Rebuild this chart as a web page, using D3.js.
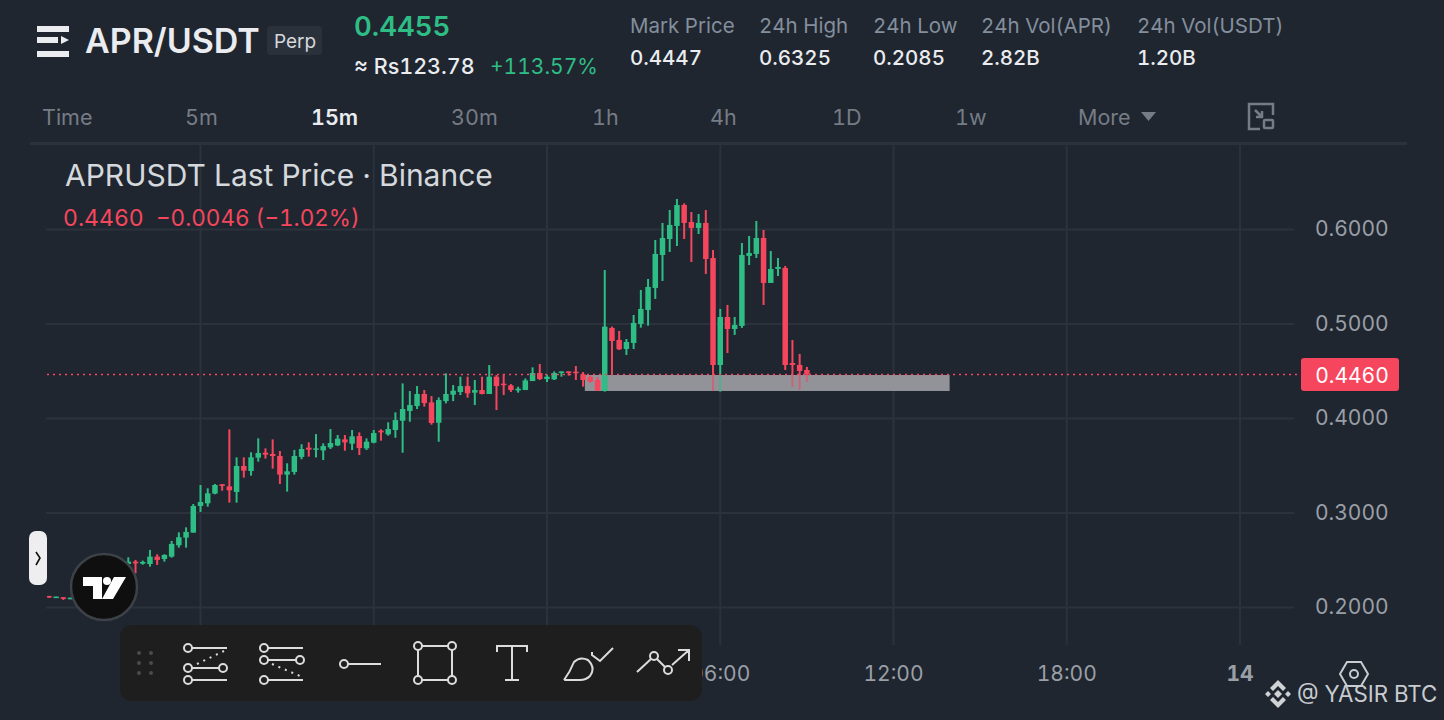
<!DOCTYPE html>
<html>
<head>
<meta charset="utf-8">
<script src="https://d3js.org/d3.v7.min.js"></script>
<style>
  html, body { margin: 0; padding: 0; background: #1f2630; overflow: hidden; }
  text { font-family: Inter, "Noto Sans", sans-serif; font-variant-numeric: tabular-nums; }
</style>
</head>
<body>
<div id="chart"></div>
<script>
// 15m candles, hours counted from 00:00 on the 13th
var firstHour = -17.25, stepHours = 0.25;
var opens = [
  .2117,.2099,.2103,.2082,.2090,.2140,.2190,.2240,.2220,.2295,.2340,
  .2455,.2480,.2459,.2455,.2533,.2508,.2533,.2653,.2734,.2787,.3069,
  .3097,.3200,.3298,.3277,.3217,.3492,.3439,.3580,.3633,.3619,.3598,
  .3401,.3429,.3588,.3686,.3665,.3657,.3689,.3710,.3774,.3728,.3809,
  .3679,.3739,.3866,.3827,.3873,.3971,.4074,.4127,.4254,.4165,.3950,
  .4179,.4247,.4275,.4338,.4268,.4296,.4254,.4437,.4363,.4345,.4292,
  .4296,.4391,.4476,.4412,.4409,.4479,.4493,.4490,.4462,.4434,.4402,
  .4286,.4953,.4826,.4730,.4794,.4995,.5143,.5376,.5725,.5894,.6032,
  .6254,.6074,.6011,.6064,.5693,.4561,.5069,.4942,.4974,.5715,.5736,
  .5905,.5429,.5577,.5588,.4582,.4561,.4508
];
var highs = [
  .2117,.2110,.2103,.2099,.2160,.2215,.2265,.2270,.2320,.2380,.2420,
  .2526,.2498,.2491,.2604,.2558,.2558,.2699,.2790,.2843,.3090,.3291,
  .3256,.3302,.3302,.3880,.3584,.3584,.3637,.3785,.3679,.3774,.3651,
  .3521,.3662,.3722,.3743,.3830,.3732,.3883,.3820,.3820,.3873,.3848,
  .3784,.3873,.3880,.3954,.4060,.4366,.4285,.4338,.4296,.4232,.4218,
  .4472,.4349,.4437,.4437,.4402,.4437,.4560,.4455,.4465,.4359,.4331,
  .4419,.4536,.4571,.4458,.4493,.4493,.4493,.4550,.4487,.4448,.4431,
  .5566,.4967,.4921,.4836,.5090,.5355,.5471,.5884,.6064,.6201,.6318,
  .6272,.6180,.6159,.6201,.5778,.5154,.5196,.5069,.5852,.5926,.6085,
  .5990,.5767,.5693,.5609,.4826,.4678,.4540
];
var lows = [
  .2099,.2099,.2075,.2082,.2080,.2125,.2175,.2200,.2205,.2280,.2325,
  .2450,.2357,.2448,.2427,.2445,.2480,.2522,.2628,.2628,.2787,.3006,
  .3062,.3193,.3231,.3104,.3104,.3369,.3390,.3538,.3570,.3464,.3302,
  .3221,.3401,.3563,.3591,.3583,.3555,.3672,.3703,.3654,.3661,.3608,
  .3661,.3732,.3760,.3813,.3791,.3633,.3961,.4095,.4120,.3929,.3749,
  .4155,.4179,.4243,.4215,.4137,.4250,.4254,.4084,.4243,.4275,.4268,
  .4296,.4391,.4402,.4381,.4402,.4437,.4448,.4402,.4332,.4374,.4290,
  .4279,.4455,.4720,.4667,.4730,.4956,.4977,.5260,.5450,.5757,.5820,
  .5894,.5651,.5947,.5524,.4286,.4279,.4688,.4879,.4953,.5619,.5693,
  .5196,.5429,.5503,.4508,.4328,.4297,.4381
];
var closes = [
  .2099,.2110,.2089,.2099,.2140,.2190,.2240,.2220,.2295,.2340,.2390,
  .2480,.2462,.2477,.2533,.2498,.2551,.2667,.2738,.2794,.3069,.3111,
  .3203,.3291,.3281,.3235,.3492,.3443,.3584,.3630,.3612,.3598,.3401,
  .3436,.3598,.3672,.3665,.3679,.3703,.3735,.3781,.3742,.3806,.3682,
  .3749,.3841,.3848,.3883,.3978,.4095,.4137,.4254,.4158,.3947,.4190,
  .4254,.4289,.4338,.4261,.4296,.4254,.4437,.4338,.4349,.4296,.4310,
  .4398,.4476,.4412,.4437,.4476,.4493,.4479,.4479,.4402,.4385,.4290,
  .4967,.4815,.4727,.4805,.5006,.5154,.5387,.5736,.5905,.6043,.6254,
  .6064,.6011,.6064,.5683,.4561,.5069,.4942,.4984,.5725,.5746,.5905,
  .5429,.5577,.5598,.4561,.4561,.4498,.4460
];

var priceTicks = [0.2, 0.3, 0.4, 0.5, 0.6];
var timeTicks = [-12, -6, 0, 6, 12, 18, 24];
var timeLabels = ["12:00", "18:00", "13", "06:00", "12:00", "18:00", "14"];
var lastPrice = 0.4460;
// grey box someone drew on the chart: price range and hours it spans
var zonePrices = [0.4455, 0.4286];
var zoneHours = [1.31, 13.94];
// from here on the candles show dimmed through the box
var zoneDimFrom = 2.1;

var statLabels = ["Mark Price", "24h High", "24h Low", "24h Vol(APR)", "24h Vol(USDT)"];
var statValues = ["0.4447", "0.6325", "0.2085", "2.82B", "1.20B"];
var frames = ["Time", "5m", "15m", "30m", "1h", "4h", "1D", "1w", "More"];

var green = "#2ebd85", red = "#f6465d", gridColor = "#2b323c";
var width = 1444, height = 720;

var svg = d3.select("#chart").append("svg")
    .attr("width", width)
    .attr("height", height)
    .style("display", "block");

svg.append("rect").attr("width", width).attr("height", height).attr("fill", "#1f2630");

// scales
var x = d3.scaleLinear().domain([0, 24]).range([547, 1240]);
var y = d3.scaleLinear().domain([0.2, 0.6]).range([607, 229]);

svg.append("defs").append("clipPath").attr("id", "plot")
  .append("rect").attr("x", 47).attr("y", 143).attr("width", 1250).attr("height", 500);

// header line over the plot
svg.append("rect").attr("x", 30).attr("y", 142).attr("width", 1377).attr("height", 3).attr("fill", gridColor);

// price axis, the tick lines double as the grid
var yAxis = svg.append("g")
    .attr("transform", "translate(1294,0)")
    .call(d3.axisRight(y).tickValues(priceTicks).tickFormat(d3.format(".4f")).tickSize(0).tickPadding(21));
yAxis.select(".domain").remove();
yAxis.selectAll("text").attr("fill", "#9a9fa6").style("font-size", "21px")
  .style("font-family", "Inter").style("font-variant-numeric", "tabular-nums");
yAxis.selectAll("line").attr("x1", -1248).attr("x2", 0).attr("stroke", gridColor).attr("stroke-width", 2);

// time axis
var xAxis = svg.append("g")
    .attr("transform", "translate(-0.5,645)")
    .call(d3.axisBottom(x).tickValues(timeTicks)
      .tickFormat(function(d, i) { return timeLabels[i]; }).tickSize(0).tickPadding(21));
xAxis.select(".domain").remove();
xAxis.selectAll("text").attr("fill", "#9a9fa6").style("font-size", "21px")
  .style("font-family", "Inter").style("font-variant-numeric", "tabular-nums")
  .attr("font-weight", function(d) { return d == 24 ? 700 : 400; });
xAxis.selectAll("line").attr("y1", -502).attr("y2", 0).attr("stroke", gridColor).attr("stroke-width", 2);

// grey zone, under the candles
svg.append("rect")
    .attr("x", x(zoneHours[0]))
    .attr("width", x(zoneHours[1]) - x(zoneHours[0]))
    .attr("y", y(zonePrices[0]))
    .attr("height", y(zonePrices[1]) - y(zonePrices[0]))
    .attr("fill", "#919398");

// candles
var candles = opens.map(function(o, i) {
  return { hour: firstHour + i * stepHours, open: o, high: highs[i], low: lows[i], close: closes[i] };
});
var bodyWidth = (x(stepHours) - x(0)) * 0.76;

var candle = svg.append("g").attr("clip-path", "url(#plot)")
  .selectAll("g").data(candles).enter().append("g")
    .attr("fill", function(d) { return d.close >= d.open ? green : red; });
candle.append("rect")
    .attr("x", function(d) { return x(d.hour) - 1; })
    .attr("width", 2)
    .attr("y", function(d) { return y(d.high); })
    .attr("height", function(d) { return y(d.low) - y(d.high); });
candle.append("rect")
    .attr("x", function(d) { return x(d.hour) - bodyWidth / 2; })
    .attr("width", bodyWidth)
    .attr("y", function(d) { return y(Math.max(d.open, d.close)); })
    .attr("height", function(d) { return Math.max(1.5, Math.abs(y(d.open) - y(d.close))); });

// veil over the later candles
svg.append("rect")
    .attr("x", x(zoneDimFrom))
    .attr("width", x(zoneHours[1]) - x(zoneDimFrom))
    .attr("y", y(zonePrices[0]))
    .attr("height", y(zonePrices[1]) - y(zonePrices[0]))
    .attr("fill", "#919398")
    .attr("opacity", 0.42);

// last price line
svg.append("line")
    .attr("x1", 47).attr("x2", 1300)
    .attr("y1", y(lastPrice)).attr("y2", y(lastPrice))
    .attr("stroke", red).attr("stroke-width", 1.5).attr("stroke-dasharray", "2 4");

// price tag
svg.append("rect").attr("x", 1301).attr("y", y(lastPrice) - 16.5).attr("width", 98).attr("height", 33).attr("rx", 3).attr("fill", red);
svg.append("text").attr("x", 1352).attr("y", y(lastPrice) + 8.5).attr("text-anchor", "middle")
    .attr("fill", "#fff").style("font-size", "21px").text(d3.format(".4f")(lastPrice));

// little helper for the page text
function label(s, px, py, size, color, weight) {
  return svg.append("text").attr("x", px).attr("y", py).attr("fill", color)
    .attr("font-weight", weight || 400).style("font-size", size + "px").text(s);
}

// top bar
svg.append("path").attr("fill", "#eaecef")
    .attr("d", "M37 26h32v6h-32zM37 37h21v6h-21zM61 36l8 4l-8 4zM37 51h32v6h-32z");
label("APR/USDT", 85, 53, 34, "#eaecef", 600);
svg.append("rect").attr("x", 267).attr("y", 26).attr("width", 55).attr("height", 29).attr("rx", 4).attr("fill", "#2b313b");
label("Perp", 274, 48, 19, "#d5d8dc");
label("0.4455", 354, 36, 27.5, green, 600);
label("\u2248 Rs123.78", 354, 74, 21.5, "#eaecef", 500);
label("+113.57%", 490, 74, 21, green);

var statX = [630, 759, 873, 981, 1137];
statLabels.forEach(function(s, i) {
  label(s, statX[i], 33, 20.5, "#848e9c");
  label(statValues[i], statX[i], 65, 20.5, "#eaecef", 500);
});

var frameX = [42, 185, 311, 451, 592, 710, 832, 955, 1078];
frames.forEach(function(s, i) {
  var on = s == "15m";
  label(s, frameX[i], 125, 21.5, on ? "#eaecef" : "#767c85", on ? 600 : 400);
});
svg.append("path").attr("fill", "#767c85").attr("d", "M1141 112h15l-7.5 9z");
svg.append("path").attr("fill", "none").attr("stroke", "#767c85").attr("stroke-width", 2.5)
    .attr("d", "M1260 129h-11v-25h24v11M1255 110l7 7M1262 111v6h-6");
svg.append("rect").attr("x", 1264).attr("y", 120).attr("width", 9).attr("height", 8).attr("rx", 1)
    .attr("fill", "none").attr("stroke", "#767c85").attr("stroke-width", 2.5);

// legend
label("APRUSDT Last Price \u00b7 Binance", 65, 186, 30, "#d5d8dc");
label("0.4460", 63, 226, 23, red);
label("\u22120.0046 (\u22121.02%)", 156, 226, 22.5, red);

// side handle
svg.append("rect").attr("x", 29).attr("y", 531).attr("width", 18).attr("height", 54).attr("rx", 7).attr("fill", "#eeeef0");
svg.append("path").attr("fill", "none").attr("stroke", "#111").attr("stroke-width", 1.6).attr("d", "M36 552l4 6l-4 7");

// tradingview badge
svg.append("circle").attr("cx", 104).attr("cy", 587).attr("r", 33).attr("fill", "#0f0f0f").attr("stroke", "#3d4249").attr("stroke-width", 2.5);
svg.append("path").attr("fill", "#fff").attr("d", "M83 577h19v22h-9v-13h-10zM114 577h12l-13 22h-11z");
svg.append("circle").attr("cx", 107).attr("cy", 581).attr("r", 4).attr("fill", "#fff");

// drawing toolbar
svg.append("rect").attr("x", 120).attr("y", 625).attr("width", 582).attr("height", 76).attr("rx", 12).attr("fill", "#1e1e1f");

var dots = svg.append("g").attr("fill", "#4b4a50");
[139, 151].forEach(function(cx) {
  [653, 663, 673].forEach(function(cy) {
    dots.append("circle").attr("cx", cx).attr("cy", cy).attr("r", 2);
  });
});

var tools = svg.append("g").attr("fill", "none").attr("stroke", "#dcdcdc").attr("stroke-width", 2);
tools.append("path").attr("d",
  "M192 648H227M192 668H219M192 680H227" +
  "M268 648H303M268 660H296M268 680H303" +
  "M348 664H381" +
  "M422 646H448M422 680H448M418 650V676M452 650V676" +
  "M497 652V646H527V652M512 646V680M505 680H519" +
  "M564 680Q570 672 574 662Q580 656 588 660Q596 668 590 676Q586 680 580 680H564M592 652V655L600 661L613 648" +
  "M637 672L651 659M657 659L665 667M672 665L689 650M678 650H689V661");
tools.append("path").attr("stroke-dasharray", "2 5").attr("d", "M197 664L224 651M272 664L300 676");
[[188,648],[188,668],[223,668],[188,680],[264,648],[264,660],[300,660],[264,680],[344,664],
 [418,646],[452,646],[418,680],[452,680],[654,656],[668,670]].forEach(function(c) {
  tools.append("circle").attr("cx", c[0]).attr("cy", c[1]).attr("r", 4);
});

// settings hexagon + watermark
svg.append("path").attr("fill", "none").attr("stroke", "#c9ccd0").attr("stroke-width", 2)
    .attr("d", "M1340 674L1347 662H1361L1368 674L1361 686H1347Z");
svg.append("circle").attr("cx", 1354).attr("cy", 674).attr("r", 4).attr("fill", "none").attr("stroke", "#c9ccd0").attr("stroke-width", 2);
svg.append("path").attr("fill", "#d0d2d6")
    .attr("d", "M1278 680l8 8l-3 3l-5-5l-5 5l-3-3zM1265 694l3-3l3 3l-3 3zM1285 694l3-3l3 3l-3 3zM1278 690l4 4l-4 4l-4-4zM1270 700l3-3l5 5l5-5l3 3l-8 8z");
label("@ YASIR BTC", 1297, 702, 22.3, "#c8cbcf");
</script>
</body>
</html>
